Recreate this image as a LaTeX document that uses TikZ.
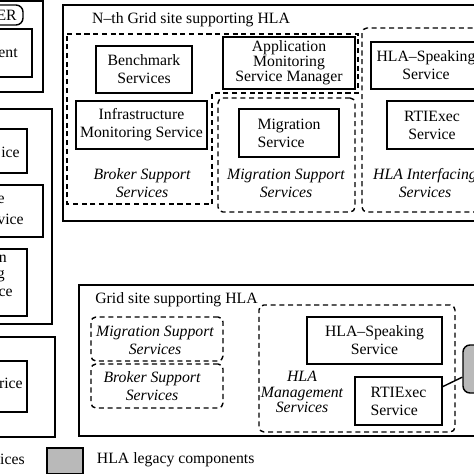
\documentclass[tikz,border=0pt]{standalone}
\usepackage{fontspec}
\setmainfont{Liberation Serif}
\begin{document}
\begin{tikzpicture}[x=0.025cm, y=-0.025cm,
    every node/.style={font=\fontsize{11.2}{12.8}\selectfont},
    boxsize/.style 2 args={minimum width=#1*0.025cm, minimum height=#2*0.025cm},
    site/.style={draw, line width=1.3pt, inner sep=0pt},
    svc/.style={draw, line width=1pt, align=center, inner sep=1pt},
    svcgroup/.style={draw, line width=1pt, dash pattern=on 3.6pt off 2.6pt, rounded corners=3.5pt, inner sep=0pt},
    grplabel/.style={align=center, font=\fontsize{11.2}{12.8}\selectfont\itshape},
    legacy/.style={draw, line width=1pt, fill=gray!55},
    conn/.style={line width=1pt},
    frag/.style={anchor=east, inner sep=0pt}]
    \useasboundingbox (0,0) rectangle (474,474);
    \clip (0,0) rectangle (474,474);

    % sites on the left, cut off by the frame
    \node[site, boxsize={53}{91}] (topSite) at (16.5,46.5) {};
    \node[svc, boxsize={33}{20}, rounded corners=5pt] (erTag) at (6.5,15) {};
    \node[frag] (erText) at (17,15) {ER};
    \node[svc, boxsize={42}{48}] (agentBox) at (11,53) {};
    \node[frag] (agentText) at (18,53) {ent};

    \node[site, boxsize={62}{215}] (midSite) at (21,216.5) {};
    \node[svc, boxsize={37}{44}] (svcA) at (8.5,151) {};
    \node[frag] (svcAText) at (20,152) {ice};
    \node[svc, boxsize={53}{52}] (svcB) at (16.5,211) {};
    \node[frag] (svcBTextA) at (5,200) {e};
    \node[frag] (svcBTextB) at (24,219) {vice};
    \node[svc, boxsize={37}{67}] (svcC) at (8.5,282.5) {};
    \node[frag] (svcCTextA) at (7,259) {n};
    \node[frag] (svcCTextB) at (5,276) {g};
    \node[frag] (svcCTextC) at (13,293) {ce};

    \node[site, boxsize={65}{100}] (lowSite) at (22.5,387) {};
    \node[svc, boxsize={37}{51}] (svcD) at (8.5,386.5) {};
    \node[frag] (svcDText) at (23,383) {rice};

    % N-th grid site
    \node[site, boxsize={427}{216}] (nthSite) at (276.5,113) {};
    \node (nthTitle) at (191,20) {N--th Grid site supporting HLA};
    \draw[svcgroup, sharp corners] (67,34) -- (358,34) -- (358,93) -- (212,93) -- (212,204) -- (67,204) -- cycle;
    \node[svcgroup, boxsize={137}{114}] (migrGroupN) at (286.5,155) {};
    \node[svcgroup, boxsize={133}{184}] (hlaIfGroup) at (428.5,120) {};
    \node[svc, boxsize={96}{47}] (bench) at (144,69.5) {Benchmark\\Services};
    \node[svc, boxsize={131}{48}] (infra) at (141.5,125) {Infrastructure\\Monitoring Service};
    \node[svc, boxsize={132}{52}, font=\fontsize{11.2}{10.8}\selectfont] (appMon) at (289,63) {Application\\Monitoring\\Service Manager};
    \node[svc, boxsize={100}{48}, align=left] (migr) at (289,133) {Migration\\Service};
    \node[svc, boxsize={110}{47}] (speakN) at (426,65.5) {HLA--Speaking\\Service};
    \node[svc, boxsize={90}{48}] (rtiN) at (432,125) {RTIExec\\Service};
    \node[grplabel] (brokerLabelN) at (142,183) {Broker Support\\Services};
    \node[grplabel] (migrLabelN) at (286,183) {Migration Support\\Services};
    \node[grplabel] (hlaIfLabel) at (425,183) {HLA Interfacing\\Services};

    % grid site
    \node[site, boxsize={411}{151}] (gridSite) at (284.5,360.5) {};
    \node (gridTitle) at (176.5,300) {Grid site supporting HLA};
    \node[svcgroup, boxsize={132}{44}] (migrGroupG) at (157,339) {};
    \node[grplabel] (migrLabelG) at (155,340) {Migration Support\\Services};
    \node[svcgroup, boxsize={132}{44}] (brokerGroupG) at (157,386) {};
    \node[grplabel] (brokerLabelG) at (152,386) {Broker Support\\Services};
    \node[svcgroup, boxsize={196}{127}] (hlaMgGroup) at (357,368.5) {};
    \node[svc, boxsize={135}{47}] (speakG) at (374.5,340.5) {HLA--Speaking\\Service};
    \node[svc, boxsize={87}{48}, align=left] (rtiG) at (398.5,401) {RTIExec\\Service};
    \node[grplabel, font=\fontsize{11.2}{11}\selectfont\itshape] (hlaMgLabel) at (302,392) {HLA\\Management\\Services};
    \node[legacy, rounded corners=5pt, boxsize={37}{48}] (legacyComp) at (481.5,369) {};
    \draw[conn] (rtiG.18) -- (legacyComp.203);

    % legend
    \node[frag] (legendSvc) at (25,459) {ices};
    \node[legacy, boxsize={36}{26}] (legendKey) at (65,461) {};
    \node[anchor=west] (legendText) at (92,460) {HLA legacy components};
\end{tikzpicture}
\end{document}
